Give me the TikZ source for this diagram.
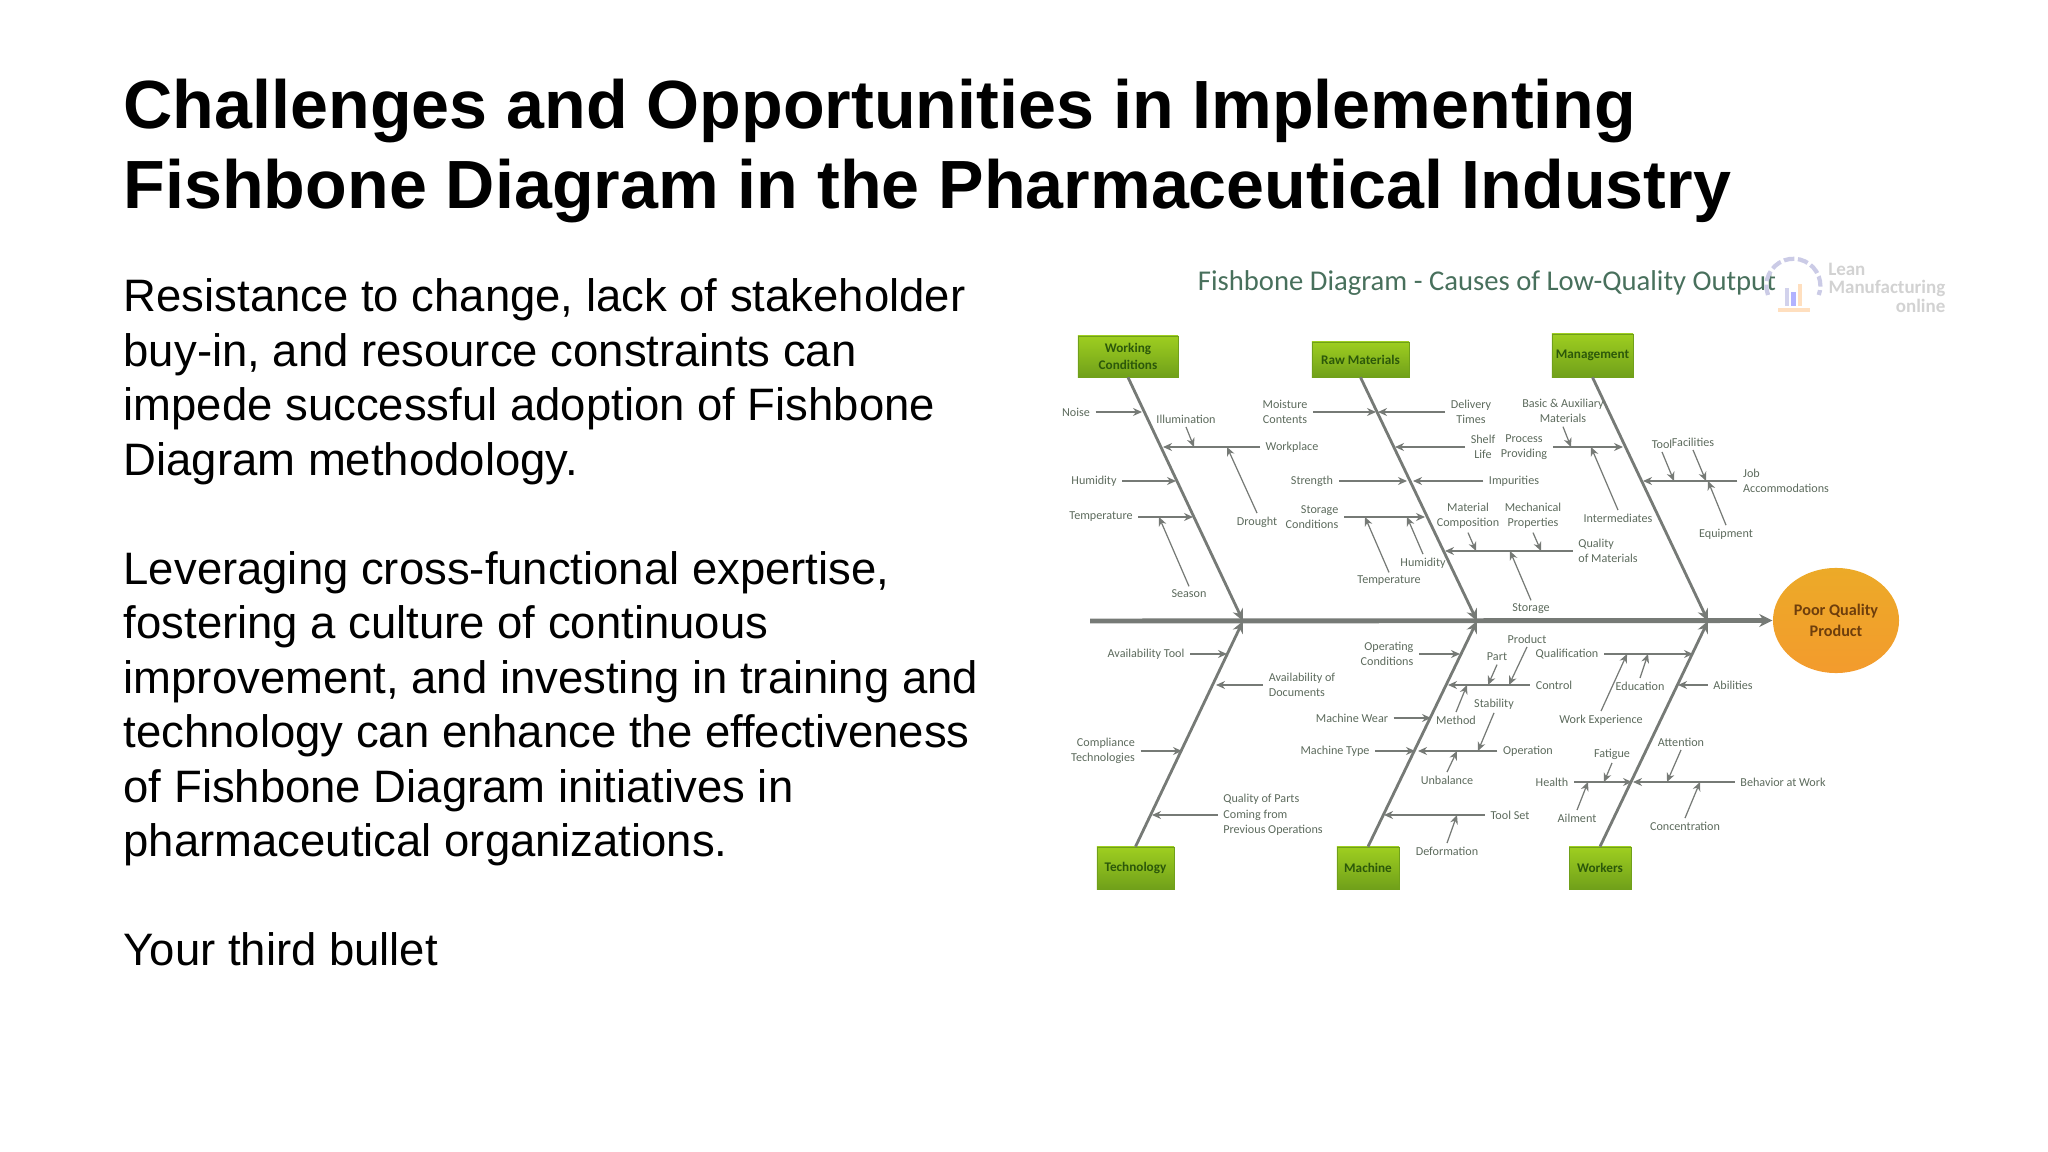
\documentclass[tikz,border=0pt]{standalone}
\usepackage{fontspec}
\setmainfont{Liberation Sans}
\newfontfamily\chartfont{Carlito}
\usetikzlibrary{arrows.meta,shapes.geometric}
\definecolor{boneGrey}{RGB}{118,122,118}
\definecolor{labelGrey}{RGB}{92,106,92}
\definecolor{boxTop}{RGB}{158,206,32}
\definecolor{boxBottom}{RGB}{112,160,26}
\definecolor{boxText}{RGB}{44,88,10}
\definecolor{headTop}{RGB}{236,170,40}
\definecolor{headBottom}{RGB}{243,155,45}
\definecolor{headText}{RGB}{110,62,12}
\definecolor{titleGreen}{RGB}{72,112,92}
\tikzset{
  lbl/.style={font=\chartfont\fontsize{3.45}{4.4}\selectfont, text=labelGrey, align=center, inner xsep=0.05cm, inner ysep=0.03cm},
  lblleft/.style={lbl, align=left},
  cause/.style={draw=boneGrey, line width=0.35pt, -{Stealth[length=0.09cm,width=0.08cm]}},
  bone/.style={draw=boneGrey, line width=0.8pt, -{Stealth[length=0.12cm,width=0.11cm]}},
  catbox/.style={rectangle, top color=boxTop, bottom color=boxBottom, draw=boxBottom, line width=0.2pt, font=\chartfont\bfseries\fontsize{3.75}{4.6}\selectfont, text=boxText, align=center, inner sep=0pt}
}
\begin{document}
\begin{tikzpicture}[x=0.01cm,y=-0.01cm]
\useasboundingbox (0,0) rectangle (2048,1152);
% slide text
\node[anchor=north west, inner sep=0pt, align=left, font=\bfseries\fontsize{19.4}{22.8}\selectfont] (heading) at (123,78.5) {Challenges and Opportunities in Implementing\\Fishbone Diagram in the Pharmaceutical Industry};
\node[anchor=north west, inner sep=0pt, align=left, font=\fontsize{12.93}{15.5}\selectfont] (bullets) at (123,278) {Resistance to change, lack of stakeholder\\buy-in, and resource constraints can\\impede successful adoption of Fishbone\\Diagram methodology.\\~\\Leveraging cross-functional expertise,\\fostering a culture of continuous\\improvement, and investing in training and\\technology can enhance the effectiveness\\of Fishbone Diagram initiatives in\\pharmaceutical organizations.\\~\\Your third bullet};
% chart title and faint logo
\node[font=\chartfont\fontsize{8.15}{10}\selectfont, text=titleGreen, inner sep=0pt] (charttitle) at (1487,283) {Fishbone Diagram - Causes of Low-Quality Output};
\draw[blue!35!gray!30, line width=1.2pt, dash pattern=on 3pt off 1pt] (1768,295) arc (160:380:27);
\draw[orange!25, line width=1pt] (1778,310) -- (1810,310);
\fill[blue!40!gray!25] (1785,288) rectangle (1789,306);
\fill[blue!30!white] (1791,292) rectangle (1796,306);
\fill[orange!25] (1798,284) rectangle (1802,306);
\node[anchor=north east, font=\chartfont\bfseries\fontsize{5.4}{5.3}\selectfont, text=gray!35, align=right, inner sep=0pt] (logotext) at (1946,262) {\makebox[1.17cm][l]{Lean}\\Manufacturing\\online};
% head and categories
\node[ellipse, minimum width=1.26cm, minimum height=1.05cm, inner sep=0pt, top color=headTop, bottom color=headBottom, font=\chartfont\bfseries\fontsize{4.6}{5.8}\selectfont, text=headText, align=center] (effect) at (1836,620.5) {Poor Quality\\Product};
\node[catbox, minimum width=1.0cm, minimum height=0.41cm] (wcbox) at (1128,356.5) {Working\\Conditions};
\node[catbox, minimum width=0.97cm, minimum height=0.35cm] (rmbox) at (1360.5,359.5) {Raw Materials};
\node[catbox, minimum width=0.81cm, minimum height=0.43cm] (mgbox) at (1592.5,355.5) {Management};
\node[catbox, minimum width=0.77cm, minimum height=0.42cm] (techbox) at (1135.5,868) {Technology};
\node[catbox, minimum width=0.62cm, minimum height=0.42cm] (machbox) at (1368,868) {Machine};
\node[catbox, minimum width=0.62cm, minimum height=0.42cm] (workbox) at (1600,868) {Workers};
% spine and main bones
\coordinate (spineStart) at (1090,621);
\coordinate (joinA) at (1243,621);
\coordinate (joinB) at (1477,621);
\coordinate (joinC) at (1708,621);
\draw[draw=boneGrey, line width=1.4pt, -{Stealth[length=0.13cm,width=0.13cm]}] (spineStart) -- (effect.west);
\draw[bone] (wcbox.south) -- (joinA);
\draw[bone] (rmbox.south) -- (joinB);
\draw[bone] (mgbox.south) -- (joinC);
\draw[bone] (techbox.north) -- (joinA);
\draw[bone] (machbox.north) -- (joinB);
\draw[bone] (workbox.north) -- (joinC);
% working conditions
\node[lbl] (noise) at (1076,412) {Noise};
\coordinate (noiseEnd) at (1142,412);
\draw[cause] (noise) -- (noiseEnd);
\node[lbl] (workplace) at (1292,447) {Workplace};
\coordinate (workplaceEnd) at (1163,447);
\draw[cause] (workplace) -- (workplaceEnd);
\node[lbl] (illum) at (1186,419) {Illumination};
\coordinate (illumEnd) at (1194,447);
\draw[cause] (illum.south) -- (illumEnd);
\node[lbl] (drought) at (1257,522) {Drought};
\coordinate (droughtEnd) at (1227,447);
\draw[cause] (drought.north) -- (droughtEnd);
\node[lbl] (humidA) at (1094,481) {Humidity};
\coordinate (humidAEnd) at (1176,481);
\draw[cause] (humidA) -- (humidAEnd);
\node[lbl] (tempA) at (1101,517) {Temperature};
\coordinate (tempAEnd) at (1193,517);
\draw[cause] (tempA) -- (tempAEnd);
\node[lbl] (season) at (1189,594) {Season};
\coordinate (seasonEnd) at (1159,517);
\draw[cause] (season.north) -- (seasonEnd);
% raw materials
\node[lbl] (moisture) at (1285,412) {Moisture\\Contents};
\coordinate (moistureEnd) at (1376,412);
\draw[cause] (moisture) -- (moistureEnd);
\node[lbl] (delivery) at (1471,412) {Delivery\\Times};
\coordinate (deliveryEnd) at (1378,412);
\draw[cause] (delivery) -- (deliveryEnd);
\node[lbl] (shelf) at (1483,447) {Shelf\\Life};
\coordinate (shelfEnd) at (1395,447);
\draw[cause] (shelf) -- (shelfEnd);
\node[lbl] (strength) at (1312,481) {Strength};
\coordinate (strengthEnd) at (1407,481);
\draw[cause] (strength) -- (strengthEnd);
\node[lbl] (impurities) at (1514,481) {Impurities};
\coordinate (impuritiesEnd) at (1413,481);
\draw[cause] (impurities) -- (impuritiesEnd);
\node[lbl, align=right] (storageCond) at (1312,517) {Storage\\Conditions};
\coordinate (storageCondEnd) at (1425,517);
\draw[cause] (storageCond) -- (storageCondEnd);
\node[lbl] (humidB) at (1423,563) {Humidity};
\coordinate (humidBEnd) at (1407,517);
\draw[cause] (humidB.north) -- (humidBEnd);
\node[lbl] (tempB) at (1389,581) {Temperature};
\coordinate (tempBEnd) at (1365,517);
\draw[cause] (tempB.north) -- (tempBEnd);
\node[lblleft] (qualityMat) at (1608,551) {Quality\\of Materials};
\coordinate (qualityMatEnd) at (1445,551);
\draw[cause] (qualityMat) -- (qualityMatEnd);
\node[lbl] (composition) at (1468,516) {Material\\Composition};
\coordinate (compositionEnd) at (1476,551);
\draw[cause] (composition.south) -- (compositionEnd);
\node[lbl] (mechanical) at (1533,516) {Mechanical\\Properties};
\coordinate (mechanicalEnd) at (1541,551);
\draw[cause] (mechanical.south) -- (mechanicalEnd);
\node[lbl] (storage) at (1531,609) {Storage};
\coordinate (storageEnd) at (1510,551);
\draw[cause] (storage.north) -- (storageEnd);
% management
\node[lbl] (process) at (1524,447) {Process\\Providing};
\coordinate (processEnd) at (1623,447);
\draw[cause] (process) -- (processEnd);
\node[lbl] (auxiliary) at (1563,411) {Basic \& Auxiliary\\Materials};
\coordinate (auxiliaryEnd) at (1571,447);
\draw[cause] (auxiliary.south) -- (auxiliaryEnd);
\node[lbl] (intermediates) at (1618,518) {Intermediates};
\coordinate (intermediatesEnd) at (1591,447);
\draw[cause] (intermediates.north) -- (intermediatesEnd);
\node[lblleft] (job) at (1786,481) {Job\\Accommodations};
\coordinate (jobEnd) at (1643,481);
\draw[cause] (job) -- (jobEnd);
\node[lbl] (tool) at (1662,444) {Tool};
\coordinate (toolEnd) at (1674,481);
\draw[cause] (tool.south) -- (toolEnd);
\node[lbl] (facilities) at (1693,442) {Facilities};
\coordinate (facilitiesEnd) at (1706,481);
\draw[cause] (facilities.south) -- (facilitiesEnd);
\node[lbl] (equipment) at (1726,534) {Equipment};
\coordinate (equipmentEnd) at (1708,481);
\draw[cause] (equipment.north) -- (equipmentEnd);
% technology
\node[lbl] (availTool) at (1146,654) {Availability Tool};
\coordinate (availToolEnd) at (1227,654);
\draw[cause] (availTool) -- (availToolEnd);
\node[lblleft] (availDocs) at (1302,685) {Availability of\\Documents};
\coordinate (availDocsEnd) at (1216,685);
\draw[cause] (availDocs) -- (availDocsEnd);
\node[lbl, align=right] (compliance) at (1103,751) {Compliance\\Technologies};
\coordinate (complianceEnd) at (1182,751);
\draw[cause] (compliance) -- (complianceEnd);
\node[lblleft] (parts) at (1273,815) {Quality of Parts\\Coming from\\Previous Operations};
\coordinate (partsEnd) at (1152,815);
\draw[cause] (parts) -- (partsEnd);
% machine
\node[lbl, align=right] (operating) at (1387,654) {Operating\\Conditions};
\coordinate (operatingEnd) at (1460,654);
\draw[cause] (operating) -- (operatingEnd);
\node[lbl] (control) at (1554,685) {Control};
\coordinate (controlEnd) at (1448,685);
\draw[cause] (control) -- (controlEnd);
\node[lbl] (part) at (1497,657) {Part};
\coordinate (partEnd) at (1488,685);
\draw[cause] (part.south) -- (partEnd);
\node[lbl] (product) at (1527,639) {Product};
\coordinate (productEnd) at (1509,685);
\draw[cause] (product.south) -- (productEnd);
\node[lbl] (method) at (1456,720) {Method};
\coordinate (methodEnd) at (1467,685);
\draw[cause] (method.north) -- (methodEnd);
\node[lbl] (wear) at (1352,718) {Machine Wear};
\coordinate (wearEnd) at (1431,718);
\draw[cause] (wear) -- (wearEnd);
\node[lbl] (machType) at (1335,751) {Machine Type};
\coordinate (machTypeEnd) at (1415,751);
\draw[cause] (machType) -- (machTypeEnd);
\node[lbl] (operation) at (1528,751) {Operation};
\coordinate (operationEnd) at (1418,751);
\draw[cause] (operation) -- (operationEnd);
\node[lbl] (stability) at (1494,704) {Stability};
\coordinate (stabilityEnd) at (1478,751);
\draw[cause] (stability.south) -- (stabilityEnd);
\node[lbl] (unbalance) at (1447,780) {Unbalance};
\coordinate (unbalanceEnd) at (1457,751);
\draw[cause] (unbalance.north) -- (unbalanceEnd);
\node[lbl] (toolSet) at (1510,815) {Tool Set};
\coordinate (toolSetEnd) at (1384,815);
\draw[cause] (toolSet) -- (toolSetEnd);
\node[lbl] (deformation) at (1447,851) {Deformation};
\coordinate (deformationEnd) at (1457,815);
\draw[cause] (deformation.north) -- (deformationEnd);
% workers
\node[lbl] (qualification) at (1567,654) {Qualification};
\coordinate (qualificationEnd) at (1693,654);
\draw[cause] (qualification) -- (qualificationEnd);
\node[lbl] (education) at (1640,686) {Education};
\coordinate (educationEnd) at (1648,654);
\draw[cause] (education.north) -- (educationEnd);
\node[lbl] (experience) at (1601,720) {Work Experience};
\coordinate (experienceEnd) at (1627,654);
\draw[cause] (experience.north) -- (experienceEnd);
\node[lbl] (abilities) at (1733,685) {Abilities};
\coordinate (abilitiesEnd) at (1678,685);
\draw[cause] (abilities) -- (abilitiesEnd);
\node[lbl] (health) at (1552,782) {Health};
\coordinate (healthEnd) at (1632,782);
\draw[cause] (health) -- (healthEnd);
\node[lbl] (behavior) at (1783,782) {Behavior at Work};
\coordinate (behaviorEnd) at (1633,782);
\draw[cause] (behavior) -- (behaviorEnd);
\node[lbl] (attention) at (1681,742) {Attention};
\coordinate (attentionEnd) at (1667,782);
\draw[cause] (attention.south) -- (attentionEnd);
\node[lbl] (fatigue) at (1612,754) {Fatigue};
\coordinate (fatigueEnd) at (1604,782);
\draw[cause] (fatigue.south) -- (fatigueEnd);
\node[lbl] (ailment) at (1577,818) {Ailment};
\coordinate (ailmentEnd) at (1588,782);
\draw[cause] (ailment.north) -- (ailmentEnd);
\node[lbl] (concentration) at (1685,826) {Concentration};
\coordinate (concentrationEnd) at (1700,782);
\draw[cause] (concentration.north) -- (concentrationEnd);
\end{tikzpicture}
\end{document}
